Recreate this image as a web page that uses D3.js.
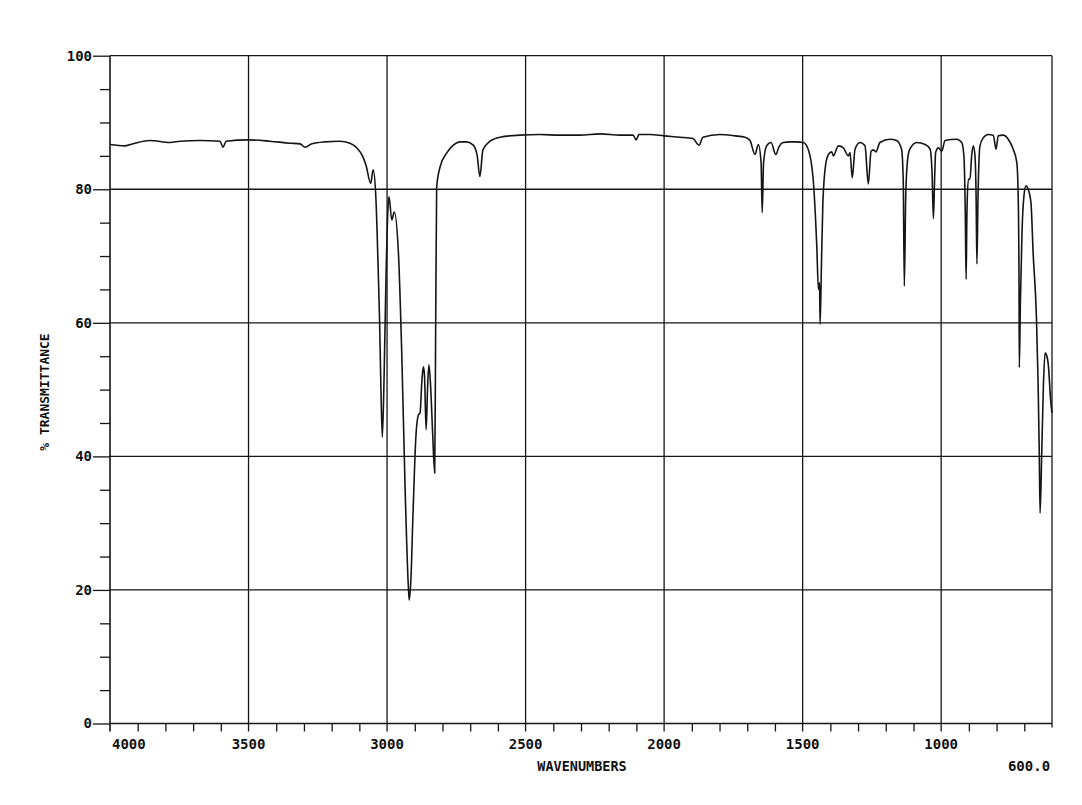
<!DOCTYPE html>
<html>
<head>
<meta charset="utf-8">
<script src="https://cdn.jsdelivr.net/npm/d3@7"></script>
<style>
  body { margin: 0; background: #fff; }
  svg text { font-family: "DejaVu Sans Mono", monospace; font-weight: bold; fill: #111; }
</style>
</head>
<body>
<svg id="svg" width="1082" height="805"></svg>
<script>
// IR spectrum (cm-1 vs %T)
const wavenumbers = [
  4000, 3946, 3910, 3856, 3783, 3747, 3675, 3603, 3592, 3581, 3502, 3423, 3350, 3314, 3296, 3271,
  3224, 3170, 3134, 3112, 3090, 3076, 3059, 3050, 3040, 3033, 3027, 3022, 3017, 3011, 3004, 2997,
  2993, 2983, 2974, 2959, 2947, 2935, 2923, 2920, 2914, 2907, 2896, 2887, 2881, 2874, 2869, 2865,
  2859, 2854, 2849, 2843, 2836, 2828, 2825, 2821, 2809, 2785, 2761, 2736, 2713, 2689, 2675, 2665,
  2654, 2628, 2592, 2520, 2448, 2376, 2304, 2231, 2159, 2112, 2101, 2091, 2051, 2000, 1942, 1896,
  1874, 1860, 1799, 1744, 1708, 1690, 1672, 1660, 1650, 1646, 1641, 1630, 1614, 1597, 1585, 1570,
  1546, 1524, 1498, 1480, 1462, 1449, 1443, 1439, 1437, 1432, 1427, 1416, 1407, 1395, 1389, 1371,
  1353, 1335, 1329, 1321, 1311, 1293, 1275, 1263, 1253, 1245, 1236, 1221, 1185, 1161, 1143, 1137,
  1133, 1128, 1121, 1113, 1088, 1058, 1040, 1033, 1028, 1023, 1020, 1010, 998, 986, 944, 926,
  918, 913, 910, 907, 902, 896, 890, 884, 878, 874, 871, 867, 860, 848, 830, 812,
  802, 794, 776, 758, 740, 727, 722, 719, 718, 714, 708, 701, 694, 687, 676, 668,
  656, 650, 646, 643, 637, 631, 625, 620, 613, 605, 600
];
const transmittance = [
  86.7, 86.5, 86.9, 87.3, 87.0, 87.2, 87.3, 87.2, 86.3, 87.2, 87.4, 87.2, 86.9, 86.8, 86.3, 86.8,
  87.1, 87.2, 86.9, 86.3, 85.1, 83.6, 80.9, 82.9, 78.4, 69.4, 60.4, 49.9, 42.9, 51.4, 66.4, 76.9,
  78.9, 75.4, 76.6, 70.5, 55.5, 35.4, 20.4, 18.5, 21.5, 30.5, 42.9, 46.2, 46.5, 51.5, 53.4, 52.2,
  44.0, 50.0, 53.7, 50.7, 44.0, 37.5, 55.9, 80.3, 83.3, 85.4, 86.6, 87.1, 87.1, 86.6, 85.1, 81.9,
  85.9, 87.2, 87.8, 88.1, 88.2, 88.1, 88.1, 88.3, 88.1, 88.1, 87.4, 88.2, 88.2, 88.0, 87.8, 87.6,
  86.6, 87.8, 88.2, 88.0, 87.8, 87.3, 85.2, 86.7, 84.0, 76.5, 84.0, 86.5, 87.0, 85.2, 86.4, 87.0,
  87.1, 87.1, 87.0, 86.0, 81.5, 71.5, 65.0, 66.0, 59.8, 69.0, 78.0, 84.0, 85.2, 85.6, 85.0, 86.5,
  86.2, 85.0, 85.5, 81.7, 86.0, 87.0, 86.5, 80.8, 85.7, 85.9, 85.6, 87.0, 87.5, 87.3, 86.0, 81.5,
  65.5, 79.0, 84.5, 86.0, 87.0, 86.7, 86.0, 82.5, 75.6, 82.5, 85.5, 86.2, 85.7, 87.3, 87.5, 87.0,
  85.0, 76.5, 66.5, 76.5, 81.5, 81.5, 85.0, 86.5, 85.0, 79.0, 68.8, 79.0, 86.5, 87.7, 88.2, 88.1,
  86.0, 88.0, 88.1, 87.5, 86.0, 84.0, 79.0, 66.0, 53.3, 63.4, 73.9, 79.1, 80.5, 80.1, 78.0, 70.4,
  60.6, 50.6, 40.6, 31.5, 40.6, 50.6, 55.5, 55.2, 53.6, 48.5, 46.5
];

const xGridTicks = [3500, 3000, 2500, 2000, 1500, 1000];
const xLabels = [4000, 3500, 3000, 2500, 2000, 1500, 1000];
const yLabels = [0, 20, 40, 60, 80, 100];

const svg = d3.select("#svg");
const ink = "#151515";

const x = d3.scaleLinear().domain([4000, 600]).range([110, 1052]);
const y = d3.scaleLinear().domain([0, 100]).range([723.5, 55.7]);

const frame = svg.append("g");

// horizontal grid (20..100)
frame.selectAll("line.hgrid")
  .data(yLabels.filter(d => d > 0))
  .join("line")
  .attr("x1", x(4000)).attr("x2", x(600))
  .attr("y1", d => y(d)).attr("y2", d => y(d))
  .attr("stroke", ink).attr("stroke-width", 1.3);

// vertical grid, run a bit below the axis like the plotter ticks
frame.selectAll("line.vgrid")
  .data(xGridTicks)
  .join("line")
  .attr("x1", d => x(d)).attr("x2", d => x(d))
  .attr("y1", y(100)).attr("y2", y(0) + 8)
  .attr("stroke", ink).attr("stroke-width", 1.3);

// minor x ticks every 100
const xMinor = d3.range(3900, 600, -100).filter(d => d % 500 !== 0);
const xAxis = frame.append("g")
  .attr("transform", `translate(0,${y(0)})`)
  .call(d3.axisBottom(x).tickValues(xMinor).tickSize(8).tickFormat(""));
xAxis.select(".domain").remove();
xAxis.selectAll("line").attr("stroke", ink).attr("stroke-width", 1.3);

// bottom axis line, left axis, right frame
frame.append("line")
  .attr("x1", x(4000)).attr("x2", x(600)).attr("y1", y(0)).attr("y2", y(0))
  .attr("stroke", ink).attr("stroke-width", 1.5);
frame.append("line")
  .attr("x1", x(4000)).attr("x2", x(4000)).attr("y1", y(100)).attr("y2", y(0) + 8)
  .attr("stroke", ink).attr("stroke-width", 1.6);
frame.append("line")
  .attr("x1", x(600)).attr("x2", x(600)).attr("y1", y(100)).attr("y2", y(0) + 4)
  .attr("stroke", ink).attr("stroke-width", 1.3);

// y ticks: minor every 5, labelled every 20
const yMinor = d3.range(5, 100, 5).filter(d => d % 20 !== 0);
const yAxisMinor = frame.append("g")
  .attr("transform", `translate(${x(4000)},0)`)
  .call(d3.axisLeft(y).tickValues(yMinor).tickSize(10).tickFormat(""));
yAxisMinor.select(".domain").remove();
yAxisMinor.selectAll("line").attr("stroke", ink).attr("stroke-width", 1.3);

const yAxisMajor = frame.append("g")
  .attr("transform", `translate(${x(4000)},0)`)
  .call(d3.axisLeft(y).tickValues(yLabels).tickSize(17).tickPadding(1).tickFormat(d3.format("d")));
yAxisMajor.select(".domain").remove();
yAxisMajor.selectAll("line").attr("stroke", ink).attr("stroke-width", 1.3);
yAxisMajor.selectAll("text")
  .attr("font-size", 14)
  .attr("font-family", "DejaVu Sans Mono")
  .attr("font-weight", "bold")
  .attr("fill", ink);

// x labels
frame.selectAll("text.xlab")
  .data(xLabels)
  .join("text")
  .attr("x", d => d === 4000 ? x(d) + 2 : x(d))
  .attr("y", 749)
  .attr("text-anchor", d => d === 4000 ? "start" : "middle")
  .attr("font-size", 14)
  .text(d => d);

frame.append("text")
  .attr("x", 1029).attr("y", 771)
  .attr("text-anchor", "middle")
  .attr("font-size", 14)
  .text("600.0");

frame.append("text")
  .attr("x", 582).attr("y", 771)
  .attr("text-anchor", "middle")
  .attr("font-size", 13.5)
  .text("WAVENUMBERS");

frame.append("text")
  .attr("transform", "translate(49,392) rotate(-90)")
  .attr("text-anchor", "middle")
  .attr("font-size", 13)
  .text("% TRANSMITTANCE");

// spectrum trace
const points = wavenumbers.map((w, i) => ({ w, t: transmittance[i] }));
const line = d3.line()
  .x(d => x(d.w))
  .y(d => y(d.t))
  .curve(d3.curveMonotoneX);

svg.append("path")
  .datum(points)
  .attr("d", line)
  .attr("fill", "none")
  .attr("stroke", ink)
  .attr("stroke-width", 1.6)
  .attr("stroke-linejoin", "round");
</script>
</body>
</html>
